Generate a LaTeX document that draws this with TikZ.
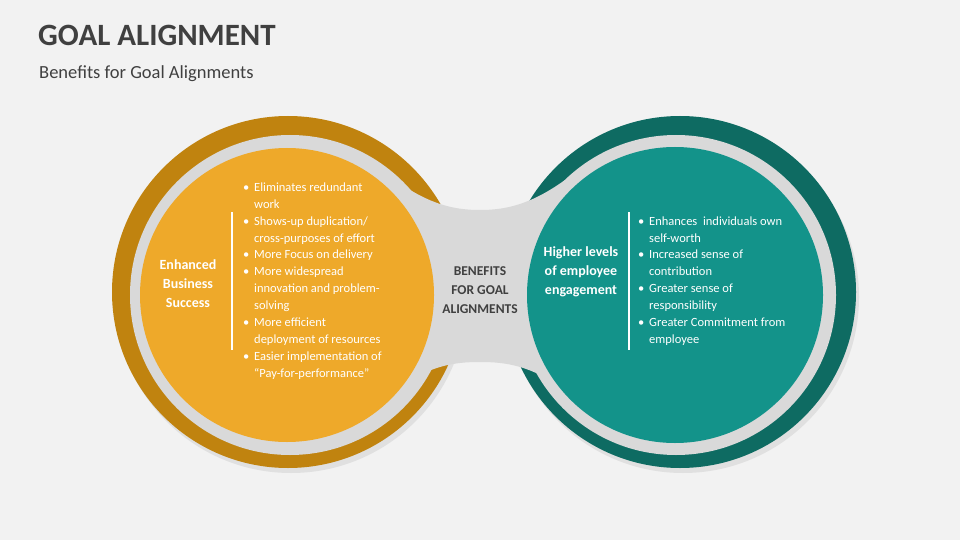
\documentclass[tikz,border=0pt]{standalone}
\usepackage{fontspec}
\setmainfont{Carlito}
\definecolor{bg}{HTML}{F2F2F2}
\definecolor{goldout}{HTML}{C0830F}
\definecolor{goldin}{HTML}{EEA92A}
\definecolor{ring}{HTML}{D9D9D9}
\definecolor{tealout}{HTML}{0E6B62}
\definecolor{tealin}{HTML}{13938A}
\definecolor{ink}{HTML}{404040}
\newcommand{\bul}{\makebox[11pt][l]{•}}
\newcommand{\ind}{\hspace*{11pt}}
\tikzset{
  head/.style={font=\bfseries\fontsize{14}{19}\selectfont, text=white, align=center, inner sep=0pt},
  blist/.style={font=\fontsize{12.5}{16.9}\selectfont, text=white, align=left, inner sep=0pt, anchor=west},
  vline/.style={white, line width=1.5pt},
}
\begin{document}
\begin{tikzpicture}[x=1pt,y=-1pt]
\fill[bg] (0,0) rectangle (960,540);
\useasboundingbox (0,0) rectangle (960,540);
\node[anchor=west, font=\bfseries\fontsize{31}{36}\selectfont, text=ink, inner sep=0pt] (title) at (38,35) {GOAL ALIGNMENT};
\node[anchor=west, font=\fontsize{18.5}{22}\selectfont, text=ink, inner sep=0pt] (sub) at (39,74) {Benefits for Goal Alignments};
% shadows
\fill[black!12] (291,297) circle (176);
\fill[black!12] (683,297) circle (176);
% outer rings
\fill[goldout] (288,292) circle (176);
\fill[tealout] (680,292) circle (176);
\fill[ring] (290,295) circle (160);
\fill[ring] (676,295) circle (160);
% connector
\fill[ring] (395,180) .. controls (430,205) and (455,210) .. (480,210)
  .. controls (505,210) and (530,205) .. (565,180) -- (565,390)
  .. controls (530,365) and (505,362) .. (480,362)
  .. controls (455,362) and (430,365) .. (395,390) -- cycle;
% inner discs
\fill[goldin] (287,295) circle (147);
\fill[tealin] (675,295) circle (148);
% middle text
\node[font=\bfseries\fontsize{13.5}{19}\selectfont, text=ink, align=center, inner sep=0pt] (mid) at (480,290) {BENEFITS\\FOR GOAL\\ALIGNMENTS};
% left
\node[head] (lh) at (188,284) {Enhanced\\Business\\Success};
\coordinate (lt) at (232,212);
\coordinate (lb) at (232,350);
\draw[vline] (lt) -- (lb);
\node[blist] (ll) at (243,281) {\bul Eliminates redundant\\\ind work\\\bul Shows-up duplication/\\\ind cross-purposes of effort\\\bul More Focus on delivery\\\bul More widespread\\\ind innovation and problem-\\\ind solving\\\bul More efficient\\\ind deployment of resources\\\bul Easier implementation of\\\ind “Pay-for-performance”};
% right
\node[head] (rh) at (581,272) {Higher levels\\of employee\\engagement};
\coordinate (rt) at (629,212);
\coordinate (rb) at (629,350);
\draw[vline] (rt) -- (rb);
\node[blist] (rl) at (638,281) {\bul Enhances\ \ individuals own\\\ind self-worth\\\bul Increased sense of\\\ind contribution\\\bul Greater sense of\\\ind responsibility\\\bul Greater Commitment from\\\ind employee};
\end{tikzpicture}
\end{document}
